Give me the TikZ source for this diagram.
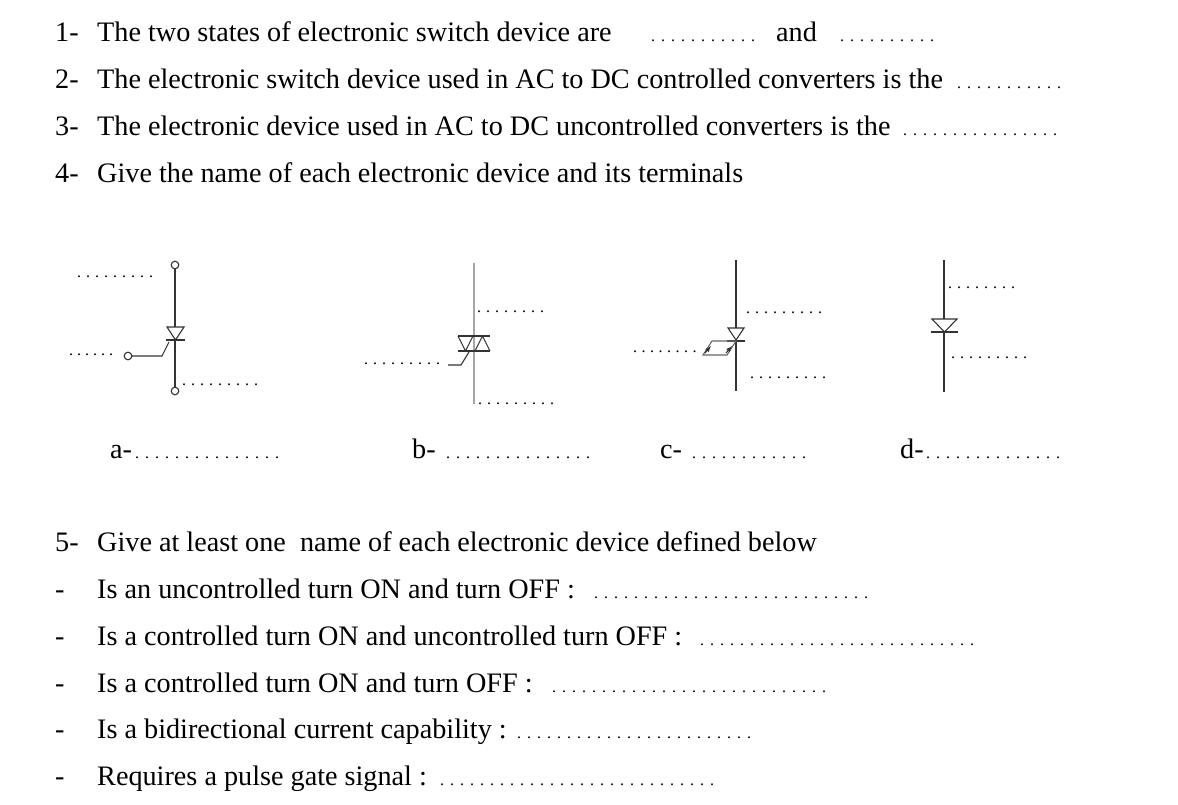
\documentclass[tikz,border=0pt]{standalone}
\usepackage{fontspec}
\setmainfont{Liberation Serif}
\newcommand\dts[2]{{\fontsize{16}{16}\selectfont\foreach \k in {1,...,#1}{\hbox to #2pt{.\hss}}}}
\begin{document}
\begin{tikzpicture}[x=1pt,y=-1pt,
 t/.style={anchor=base west,inner sep=0pt,font=\fontsize{28.2}{30}\selectfont},
 dt/.style={anchor=base west,inner sep=0pt},
 w/.style={line width=1.1pt,black!80}]
\useasboundingbox (0,0) rectangle (1178,804);
% questions
\node[t] (n1) at (55,41) {1-};
\node[t] (q1) at (97,41) {The two states of electronic switch device are};
\node[dt] (q1a) at (651,41) {\dts{11}{10}};
\node[t] (q1b) at (776,41) {and};
\node[dt] (q1c) at (840,41) {\dts{10}{10}};
\node[t] (n2) at (55,88) {2-};
\node[t] (q2) at (97,88) {The electronic switch device used in AC to DC controlled converters is the};
\node[dt] (q2a) at (957,88) {\dts{11}{10}};
\node[t] (n3) at (55,135) {3-};
\node[t] (q3) at (97,135) {The electronic device used in AC to DC uncontrolled converters is the};
\node[dt] (q3a) at (903,135) {\dts{16}{10}};
\node[t] (n4) at (55,182) {4-};
\node[t] (q4) at (97,182) {Give the name of each electronic device and its terminals};
\node[t] (n5) at (55,551) {5-};
\node[t] (q5) at (97,551) {Give at least one \ name of each electronic device defined below};
\foreach \y/\s/\xx/\nn [count=\i] in {598/{Is an uncontrolled turn ON and turn OFF :}/594/28,
 645/{Is a controlled turn ON and uncontrolled turn OFF :}/700/28,
 692/{Is a controlled turn ON and turn OFF :}/552/28,
 738/{Is a bidirectional current capability :}/517/24,
 785/{Requires a pulse gate signal :}/440/28}{
 \node[t] (d\i) at (55,\y) {-};
 \node[t] (b\i) at (97,\y) {\s};
 \node[dt] (e\i) at (\xx,\y) {\dts{\nn}{10}};
}
% labels
\node[t] (la) at (110,458) {a-};
\node[dt] (la2) at (135,458) {\dts{15}{10}};
\node[t] (lb) at (412,458) {b-};
\node[dt] (lb2) at (446,458) {\dts{15}{10}};
\node[t] (lc) at (660,458) {c-};
\node[dt] (lc2) at (692,458) {\dts{12}{10}};
\node[t] (ld) at (900,458) {d-};
\node[dt] (ld2) at (926,458) {\dts{14}{10}};
% a: GTO
\draw[w] (175,269) -- (175,387);
\draw[w] (175,265) circle (3.8) (175,391) circle (3.8) (128,356) circle (3.8);
\draw[w,fill=white] (167,327) -- (184,327) -- (175.5,340) -- cycle;
\draw[w] (166,340) -- (185,340);
\draw[w] (132,356) -- (162,356) -- (169,342);
\node[dt] (a1) at (77,277) {\dts{9}{9}};
\node[dt] (a2) at (69,355) {\dts{6}{8}};
\node[dt] (a3) at (182,385) {\dts{9}{9}};
% b: triac
\draw[line width=1.3pt,black!35] (474,263) -- (474,404);
\draw[w] (458,336) -- (490,336) (458,351) -- (490,351);
\draw[w] (458,336) -- (465.5,351) -- (473,336);
\draw[w] (475,351) -- (482.5,336) -- (490,351);
\draw[w] (448,365) -- (461,365) -- (469,352);
\node[dt] (b1) at (477,312) {\dts{8}{9}};
\node[dt] (b2) at (364,364) {\dts{9}{9}};
\node[dt] (b3) at (478,404) {\dts{9}{9}};
% c: light-triggered thyristor
\draw[w] (736,260) -- (736,391);
\draw[w,fill=white] (728,328) -- (744,328) -- (736,340) -- cycle;
\draw[w] (727,341) -- (745,341);
\draw[w,black!60] (703,355) -- (712,341) -- (736,341) -- (727,355) -- cycle;
\draw[w,-latex] (705,353) -- (711,346);
\draw[w,-latex] (726,353) -- (732,346);
\node[dt] (c1) at (746,313) {\dts{9}{9}};
\node[dt] (c2) at (633,352) {\dts{8}{8.5}};
\node[dt] (c3) at (750,378) {\dts{9}{9}};
% d: diode
\draw[w] (944,260) -- (944,392);
\draw[w,fill=white] (932,319) -- (957,319) -- (944.5,332) -- cycle;
\draw[w] (931,332) -- (958,332);
\node[dt] (d1) at (948,288) {\dts{8}{9}};
\node[dt] (d2) at (951,358) {\dts{9}{9}};
\end{tikzpicture}
\end{document}
